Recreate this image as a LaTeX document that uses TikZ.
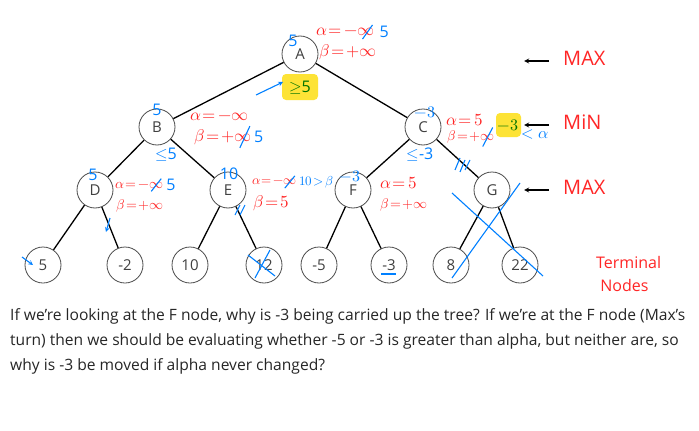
\documentclass[tikz,border=0pt]{standalone}
\usepackage{fontspec}
\usepackage{unicode-math}
\setmainfont{Open Sans}
\begin{document}
\begin{tikzpicture}[x=1pt,y=-1pt,
  nd/.style={circle,draw=black!70,line width=0.8pt,minimum size=36pt,inner sep=0pt,font=\fontsize{15}{15}\selectfont,text=black!75},
  ed/.style={line width=1.3pt},
  rd/.style={text=red!85!white,font=\fontsize{17}{17}\selectfont,inner sep=0pt,anchor=west},
  rs/.style={text=red!85!white,font=\fontsize{14}{14}\selectfont,inner sep=0pt,anchor=west},
  bl/.style={text=blue!50!cyan,font=\fontsize{16}{16}\selectfont,inner sep=0pt},
  bs/.style={draw=blue!50!cyan,line width=1.1pt},
  hl/.style={fill=yellow!80!orange,opacity=0.8,rounded corners=4pt}]
\useasboundingbox (0,0) rectangle (699,431);
\fill[white] (0,0) rectangle (699,431);
\fill[hl] (282,74) rectangle (318,100);
\fill[hl] (496,113) rectangle (521,137);
\node[nd] (A) at (300,54) {A};
\node[nd] (B) at (157,127) {B};
\node[nd] (C) at (423,127) {C};
\node[nd] (D) at (95,190) {D};
\node[nd] (E) at (228,190) {E};
\node[nd] (F) at (353,190) {F};
\node[nd] (G) at (492,190) {G};
\foreach \n/\x/\t in {l1/43/5,l2/125/-2,l3/190/10,l4/264/12,l5/319/-5,l6/389/-3,l7/451/8,l8/520/22}
  \node[nd] (\n) at (\x,265) {\t};
\foreach \a/\b in {A/B,A/C,B/D,B/E,C/F,C/G,D/l1,D/l2,E/l3,E/l4,F/l5,F/l6,G/l7,G/l8}
  \draw[ed] (\a) -- (\b);
% red annotations
\node[rd] (aA) at (316,32) {$\alpha\!=\!-\infty$};
\node[rd] at (319,52) {$\beta\!=\!+\infty$};
\node[rd] at (190,117) {$\alpha\!=\!-\infty$};
\node[rd] (bB) at (194,137) {$\beta\!=\!+\infty$};
\node[rs] (aD) at (115,185) {$\alpha\!=\!-\infty$};
\node[rs] at (116,206) {$\beta\!=\!+\infty$};
\node[rs,font=\fontsize{13}{13}\selectfont] (aE) at (252,182) {$\alpha\!=\!-\infty$};
\node[rd] at (253,203) {$\beta\!=\!5$};
\node[rd] at (380,183) {$\alpha\!=\!5$};
\node[rs] at (380,205) {$\beta\!=\!+\infty$};
\node[rd] at (446,120) {$\alpha\!=\!5$};
\node[rs] (bC) at (447,137) {$\beta\!=\!+\infty$};
\foreach \y/\t/\n in {58/MAX/m1,122/MiN/m2,187/MAX/m3}{
  \node[text=red!85!white,font=\fontsize{20}{20}\selectfont,anchor=west,inner sep=0pt] (\n) at (563,\y) {\t};
  \coordinate (\n t) at (549,\y+3);
  \draw[-stealth,line width=1.3pt] (\n t) -- ++(-25,0);}
\node[text=red!85!white,font=\fontsize{16}{23}\selectfont,align=left,anchor=west,inner sep=0pt] (tn) at (596,274) {Terminal\\ \ Nodes};
% strikes over infinities
\foreach \n in {aA,bB,aD,aE,bC}
  \draw[bs] ([xshift=-12pt,yshift=-3pt]\n.south east) -- ([xshift=-2pt,yshift=3pt]\n.north east);
% blue
\node[bl] at (293,41) {5};
\node[bl,anchor=west] at ([xshift=5pt]aA.east) {5};
\node[bl] at (157,110) {5};
\node[bl,anchor=west] at ([xshift=2pt]bB.east) {5};
\node[bl] at (166,155) {$\le$5};
\node[bl] at (93,175) {5};
\node[bl,anchor=west] at ([xshift=3pt]aD.east) {5};
\node[bl] at (229,174) {10};
\node[bl,anchor=west,font=\fontsize{13}{13}\selectfont] at ([xshift=2pt]aE.east) {$10\!>\!\beta$};
\node[bl] at (350,176) {$-3$};
\node[bl] at (425,112) {$-3$};
\node[bl] at (420,155) {$\le$-3};
\node[bl,anchor=west] at (521,134) {$<\alpha$};
\node[text=green!45!black,font=\fontsize{16}{16}\selectfont] at (300,88) {$\ge$5};
\node[text=green!45!black,font=\fontsize{16}{16}\selectfont] at (508,125) {$-3$};
\draw[bs,-stealth] (256,95) -- (283,82);
\draw[bs,-stealth] (110,218) -- (106,232);
\draw[bs,-stealth] (22,257) -- (33,265);
\draw[bs] (455,170) -- (460,158) (460,172) -- (465,160) (465,170) -- (470,160);
\draw[bs] (452,193) -- (543,276);
\draw[bs] (452,278) -- (520,183);
\draw[bs] (248,255) -- (275,276) (255,278) -- (270,250);
\draw[bs] (235,215) -- (240,205) (240,215) -- (245,205);
\draw[bs] (381,274) -- (396,274);
\node[anchor=north west,font=\fontsize{15.6}{25}\selectfont,text=black!85,align=left,inner sep=0pt] (q) at (10,308) {If we're looking at the F node, why is -3 being carried up the tree? If we're at the F node (Max's\\turn) then we should be evaluating whether -5 or -3 is greater than alpha, but neither are, so\\why is -3 be moved if alpha never changed?};
\end{tikzpicture}
\end{document}
